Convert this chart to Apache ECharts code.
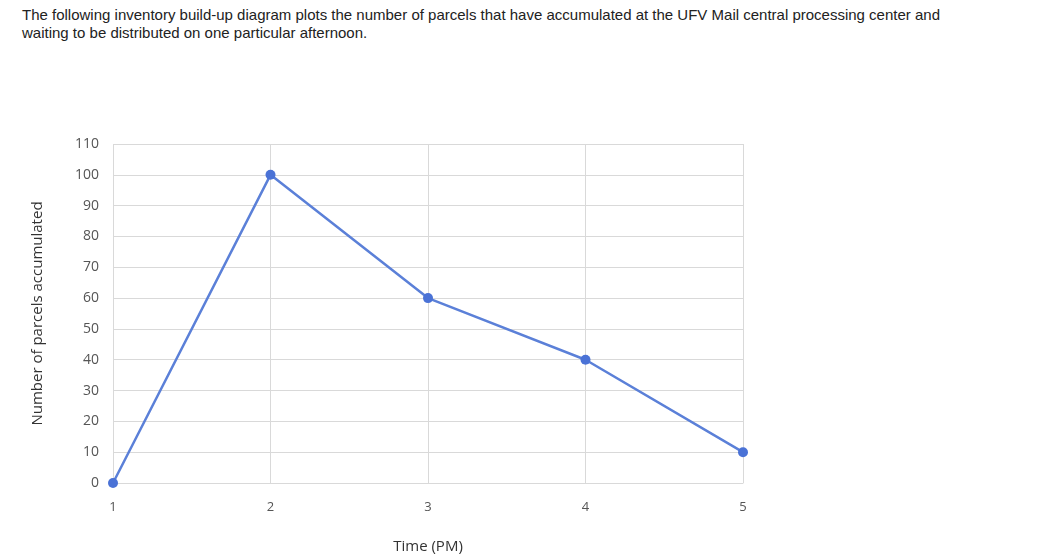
<!DOCTYPE html>
<html>
<head>
<meta charset="utf-8">
<script src="https://cdn.jsdelivr.net/npm/echarts@6/dist/echarts.min.js"></script>
<style>
  body { margin: 0; background: #fff; }
  #title { position: absolute; left: 22px; top: 6px; width: 965px; font: 15px "Liberation Sans", Arial, sans-serif; color: #222; line-height: 18px; }
  #main { width: 1037px; height: 559px; }
</style>
</head>
<body>
<div id="title">The following inventory build-up diagram plots the number of parcels that have accumulated at the UFV Mail central processing center and waiting to be distributed on one particular afternoon.</div>
<div id="main"></div>
<script>
// time (PM) and parcels accumulated
var hours = [1, 2, 3, 4, 5];
var parcels = [0, 100, 60, 40, 10];

var chartDom = document.getElementById('main');
var myChart = echarts.init(chartDom);

var points = hours.map(function (h, i) { return [h, parcels[i]]; });

var option = {
    animation: false,
    grid: { left: 113, right: 294, top: 144, bottom: 75 },
    xAxis: {
        type: 'value',
        min: 1, max: 5, interval: 1,
        name: 'Time (PM)',
        nameLocation: 'middle',
        nameGap: 56,
        nameTextStyle: { fontFamily: 'Open Sans', fontSize: 15, color: '#333' },
        axisLine: { lineStyle: { color: '#d9d9d9' } },
        axisTick: { show: false },
        axisLabel: { fontFamily: 'Open Sans', fontSize: 13, color: '#555', margin: 18 },
        splitLine: { lineStyle: { color: '#d9d9d9' } }
    },
    yAxis: {
        type: 'value',
        min: 0, max: 110, interval: 10,
        name: 'Number of parcels accumulated',
        nameLocation: 'middle',
        nameGap: 68,
        nameTextStyle: { fontFamily: 'Open Sans', fontSize: 15, color: '#333' },
        axisLine: { show: false },
        axisTick: { show: false },
        axisLabel: { fontFamily: 'Open Sans', fontSize: 14, color: '#555', margin: 14 },
        splitLine: { lineStyle: { color: '#d9d9d9' } }
    },
    series: [{
        type: 'line',
        data: points,
        symbol: 'circle',
        symbolSize: 10,
        lineStyle: { color: '#5b80d8', width: 2.5 },
        itemStyle: { color: '#4a72d6' }
    }]
};

option && myChart.setOption(option);
</script>
</body>
</html>
